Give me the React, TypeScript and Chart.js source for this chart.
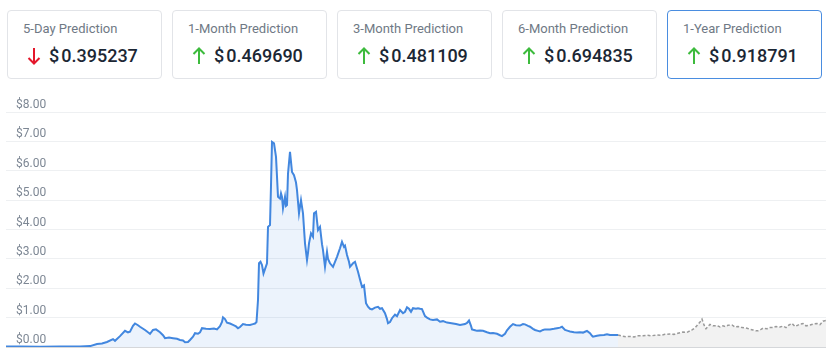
import React, { useEffect, useRef } from "react";
import { Chart, registerables } from "chart.js";

Chart.register(...registerables);

// ---- Data ----
const cardTitles = ["5-Day Prediction", "1-Month Prediction", "3-Month Prediction", "6-Month Prediction", "1-Year Prediction"];
const cardValues = ["0.395237", "0.469690", "0.481109", "0.694835", "0.918791"];
const cardUp = [false, true, true, true, true];

const yTicks = [0, 1, 2, 3, 4, 5, 6, 7, 8];

const histDays = [0, 14, 34, 54, 74, 84, 91, 96, 101, 107, 109, 114, 119, 122, 124, 127, 129, 132, 134, 139, 142, 144, 147, 150, 154, 157, 159, 163, 167, 171, 174, 177, 179, 182, 184, 187, 189, 192, 194, 196, 200, 204, 208, 211, 214, 216, 217, 219, 221, 224, 227, 230, 232, 234, 237, 240, 244, 247, 249, 250.5, 252, 253, 254.5, 256, 257.5, 259, 261, 262, 264, 265, 266, 268, 270, 271, 272, 274, 275, 276, 277, 279, 280, 281, 282, 284, 286, 288, 290, 291, 293, 295, 297, 299, 301, 302, 303, 305, 307, 308, 310, 312, 314, 316, 317, 319, 321, 322, 324, 327, 329, 331, 334, 336, 338, 339, 341, 343, 344, 347, 349, 352, 354, 356, 358, 360, 362, 364, 366, 369, 372, 374, 376, 379, 381, 382, 384, 386, 389, 391, 394, 397, 399, 401, 403, 405, 407, 410, 412, 414, 416, 419, 421, 424, 427, 431, 434, 437, 441, 444, 447, 450, 454, 459, 461, 463, 465, 466, 469, 471, 474, 477, 481, 484, 487, 491, 494, 496, 499, 501, 504, 507, 510, 514, 517, 519, 522, 524, 527, 529, 532, 534, 537, 539, 544, 548, 551, 554, 556, 559, 562, 564, 568, 571, 574, 577, 579, 581, 584, 586, 587, 591, 594, 598, 601, 604, 607, 612];
const histValues = [0.02, 0.02, 0.01, 0.02, 0.02, 0.03, 0.1, 0.12, 0.17, 0.27, 0.21, 0.37, 0.55, 0.5, 0.52, 0.72, 0.8, 0.74, 0.69, 0.58, 0.5, 0.45, 0.58, 0.6, 0.5, 0.4, 0.3, 0.32, 0.3, 0.28, 0.24, 0.22, 0.16, 0.17, 0.24, 0.35, 0.47, 0.45, 0.5, 0.64, 0.62, 0.61, 0.63, 0.6, 0.71, 0.85, 1.01, 0.95, 0.83, 0.8, 0.75, 0.7, 0.64, 0.68, 0.78, 0.76, 0.75, 0.78, 0.8, 0.85, 1.6, 2.85, 2.9, 2.79, 2.5, 2.65, 2.85, 4.09, 4.15, 5.5, 6.98, 6.93, 6.47, 5.8, 5.11, 5.05, 5.23, 5.11, 4.72, 5.11, 4.8, 4.83, 5.9, 6.64, 5.96, 5.85, 5.6, 5.34, 4.55, 5.0, 4.55, 3.53, 2.96, 3.2, 3.53, 3.87, 3.75, 4.55, 4.6, 3.98, 4.09, 3.5, 3.3, 2.73, 3.24, 3.0, 2.85, 2.73, 2.9, 3.07, 3.36, 3.58, 3.41, 3.45, 3.13, 2.9, 2.73, 2.85, 2.9, 2.56, 2.3, 2.05, 2.1, 1.49, 1.37, 1.3, 1.28, 1.34, 1.37, 1.3, 1.32, 1.15, 0.95, 0.81, 0.85, 0.98, 1.1, 1.05, 1.26, 1.15, 1.2, 1.35, 1.3, 1.2, 1.32, 1.3, 1.32, 1.3, 1.29, 1.05, 1.0, 0.94, 0.92, 0.94, 0.86, 0.88, 0.83, 0.82, 0.8, 0.78, 0.75, 0.78, 0.82, 0.9, 0.72, 0.6, 0.57, 0.55, 0.56, 0.55, 0.5, 0.47, 0.48, 0.45, 0.4, 0.37, 0.45, 0.57, 0.69, 0.78, 0.74, 0.73, 0.78, 0.77, 0.72, 0.69, 0.62, 0.58, 0.55, 0.53, 0.58, 0.6, 0.6, 0.62, 0.64, 0.66, 0.69, 0.58, 0.55, 0.53, 0.5, 0.49, 0.5, 0.49, 0.52, 0.55, 0.47, 0.38, 0.35, 0.38, 0.4, 0.41, 0.43, 0.41, 0.41, 0.41];

const predDays = [612, 616, 620, 624, 628, 632, 637, 641, 645, 651, 655, 659, 664, 668, 672, 677, 681, 686, 689, 692, 694, 696, 698, 700, 702, 704, 707, 711, 714, 717, 719, 722, 726, 729, 732, 736, 741, 744, 747, 750, 752, 755, 757, 761, 764, 767, 770, 774, 777, 780, 783, 786, 789, 791, 794, 797, 800, 804, 807, 811, 814, 817, 820];
const predValues = [0.41, 0.37, 0.35, 0.36, 0.34, 0.38, 0.38, 0.4, 0.38, 0.41, 0.4, 0.43, 0.44, 0.43, 0.47, 0.51, 0.5, 0.58, 0.65, 0.77, 0.85, 0.95, 0.75, 0.62, 0.7, 0.77, 0.72, 0.73, 0.68, 0.72, 0.7, 0.74, 0.75, 0.68, 0.7, 0.66, 0.64, 0.6, 0.58, 0.55, 0.55, 0.6, 0.64, 0.62, 0.66, 0.66, 0.7, 0.68, 0.71, 0.66, 0.75, 0.8, 0.7, 0.73, 0.78, 0.8, 0.72, 0.75, 0.78, 0.8, 0.76, 0.88, 0.9];

const BLUE = "#4287df";

function Arrow({ up }: { up: boolean }) {
  const c = up ? "#3dbb3d" : "#e4172b";
  return (
    <svg width="14" height="18" viewBox="0 0 14 18" style={{ display: "block" }}>
      {up ? (
        <g stroke={c} strokeWidth="2" fill="none">
          <line x1="7" y1="1.5" x2="7" y2="17" />
          <polyline points="1.5,7 7,1.5 12.5,7" />
        </g>
      ) : (
        <g stroke={c} strokeWidth="2" fill="none">
          <line x1="7" y1="1" x2="7" y2="16.5" />
          <polyline points="1.5,11 7,16.5 12.5,11" />
        </g>
      )}
    </svg>
  );
}

export default function App() {
  const ref = useRef<HTMLCanvasElement>(null);

  useEffect(() => {
    if (!ref.current) return;
    const hist = histDays.map((d, i) => ({ x: d, y: histValues[i] }));
    const pred = predDays.map((d, i) => ({ x: d, y: predValues[i] }));
    const chart = new Chart(ref.current, {
      type: "line",
      data: {
        datasets: [
          {
            data: hist,
            borderColor: BLUE,
            borderWidth: 2,
            backgroundColor: "rgba(66,135,223,0.10)",
            fill: "origin",
            pointRadius: 0,
            tension: 0,
          },
          {
            data: pred,
            borderColor: "#9a9a9a",
            borderWidth: 1.5,
            borderDash: [3, 2],
            backgroundColor: "rgba(0,0,0,0.05)",
            fill: "origin",
            pointRadius: 0,
            tension: 0,
          },
        ],
      },
      options: {
        animation: false,
        responsive: false,
        maintainAspectRatio: false,
        layout: { padding: { left: 6, right: 7, top: 22, bottom: 7 } },
        plugins: { legend: { display: false }, tooltip: { enabled: false } },
        scales: {
          x: { type: "linear", min: 0, max: 820, display: false },
          y: {
            min: 0,
            max: 8,
            afterBuildTicks: (s: any) => {
              s.ticks = yTicks.map((v) => ({ value: v }));
            },
            afterFit: (s: any) => {
              s.width = 0;
              s.paddingTop = 0;
              s.paddingBottom = 0;
            },
            border: { display: false },
            grid: {
              drawTicks: false,
              color: (ctx: any) => (ctx.tick && ctx.tick.value === 0 ? "#d5d7da" : "#eef0f2"),
              lineWidth: 1,
            },
            ticks: {
              mirror: true,
              padding: 10,
              labelOffset: -7,
              color: "#7d8794",
              font: { family: "Roboto", size: 12 },
              callback: (v: any) => "$" + Number(v).toFixed(2),
            },
          },
        },
      },
    });
    return () => chart.destroy();
  }, []);

  return (
    <div style={{ position: "absolute", left: 0, top: 0, width: 833, height: 354, overflow: "hidden", background: "#fff", fontFamily: "Roboto, sans-serif" }}>
      {cardTitles.map((t, i) => (
        <div
          key={i}
          style={{
            position: "absolute",
            left: 7 + i * 165,
            top: 10,
            width: 155,
            height: 69,
            boxSizing: "border-box",
            border: "1px solid " + (i === 4 ? "#4a8de0" : "#e2e4e8"),
            borderRadius: 4,
            background: "#fff",
          }}
        >
          <div style={{ position: "absolute", left: 15, top: 10, fontSize: 13, color: "#6f7985", whiteSpace: "nowrap", lineHeight: "16px" }}>{t}</div>
          <div style={{ position: "absolute", left: 19, top: 35, display: "flex", alignItems: "center" }}>
            <Arrow up={cardUp[i]} />
            <span style={{ marginLeft: 8, fontSize: 18, fontWeight: 500, color: "#1c2734", lineHeight: "20px", whiteSpace: "nowrap" }}>
              <span style={{ marginRight: 2 }}>$</span>
              {cardValues[i]}
            </span>
          </div>
        </div>
      ))}
      <canvas ref={ref} width={833} height={264} style={{ position: "absolute", left: 0, top: 90, width: 833, height: 264 }} />
    </div>
  );
}
